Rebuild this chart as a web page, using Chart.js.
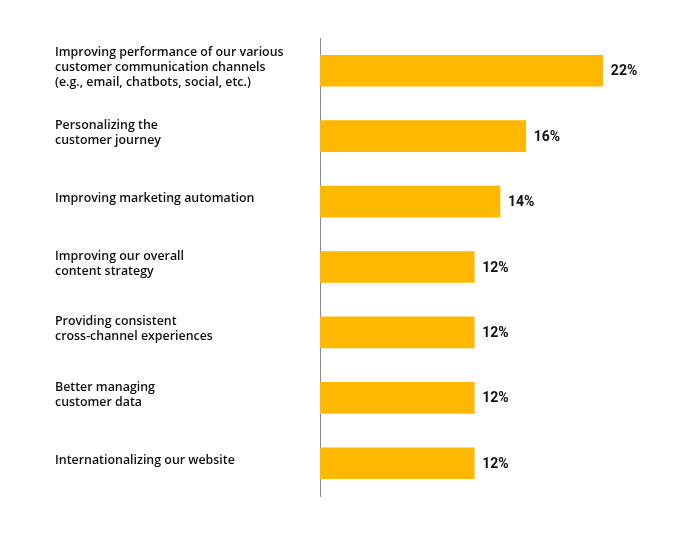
<!DOCTYPE html>
<html>
<head>
<meta charset="utf-8">
<script src="https://cdn.jsdelivr.net/npm/chart.js@4"></script>
<style>
  html, body { margin: 0; padding: 0; background: #fff; }
</style>
</head>
<body>
<canvas id="myChart" width="691" height="533"></canvas>
<script>
var categories = [
    ['Improving performance of our various', 'customer communication channels', '(e.g., email, chatbots, social, etc.)'],
    ['Personalizing the', 'customer journey'],
    ['Improving marketing automation'],
    ['Improving our overall', 'content strategy'],
    ['Providing consistent', 'cross-channel experiences'],
    ['Better managing', 'customer data'],
    ['Internationalizing our website']
];
var shares = [22, 16, 14, 12, 12, 12, 12];

// writes "22%" etc. just past the end of each bar
var valueLabels = {
    id: 'valueLabels',
    afterDatasetsDraw: function (chart) {
        var ctx = chart.ctx;
        var meta = chart.getDatasetMeta(0);
        ctx.save();
        ctx.font = '700 14px Roboto';
        ctx.fillStyle = '#111';
        ctx.textAlign = 'left';
        ctx.textBaseline = 'middle';
        meta.data.forEach(function (bar, i) {
            ctx.fillText(shares[i] + '%', bar.x + 8, bar.y + 1);
        });
        ctx.restore();
    }
};

var ctx = document.getElementById('myChart').getContext('2d');
var myChart = new Chart(ctx, {
    type: 'bar',
    data: {
        labels: categories,
        datasets: [{
            data: shares,
            backgroundColor: '#FFB800',
            barThickness: 31
        }]
    },
    options: {
        indexAxis: 'y',
        responsive: false,
        animation: false,
        layout: {
            padding: { left: 55, right: 11, top: 38, bottom: 37 }
        },
        plugins: {
            legend: { display: false },
            tooltip: { enabled: false }
        },
        scales: {
            x: {
                display: false,
                min: 0,
                max: 28
            },
            y: {
                grid: { display: false },
                border: { display: true, color: '#8a8a8a', width: 1 },
                afterFit: function (scale) { scale.width = 265; },
                ticks: {
                    crossAlign: 'far',
                    labelOffset: -3,
                    color: '#111',
                    font: { family: '"Open Sans"', size: 12.4, weight: '600', lineHeight: 1.21 }
                }
            }
        }
    },
    plugins: [valueLabels]
});
</script>
</body>
</html>
